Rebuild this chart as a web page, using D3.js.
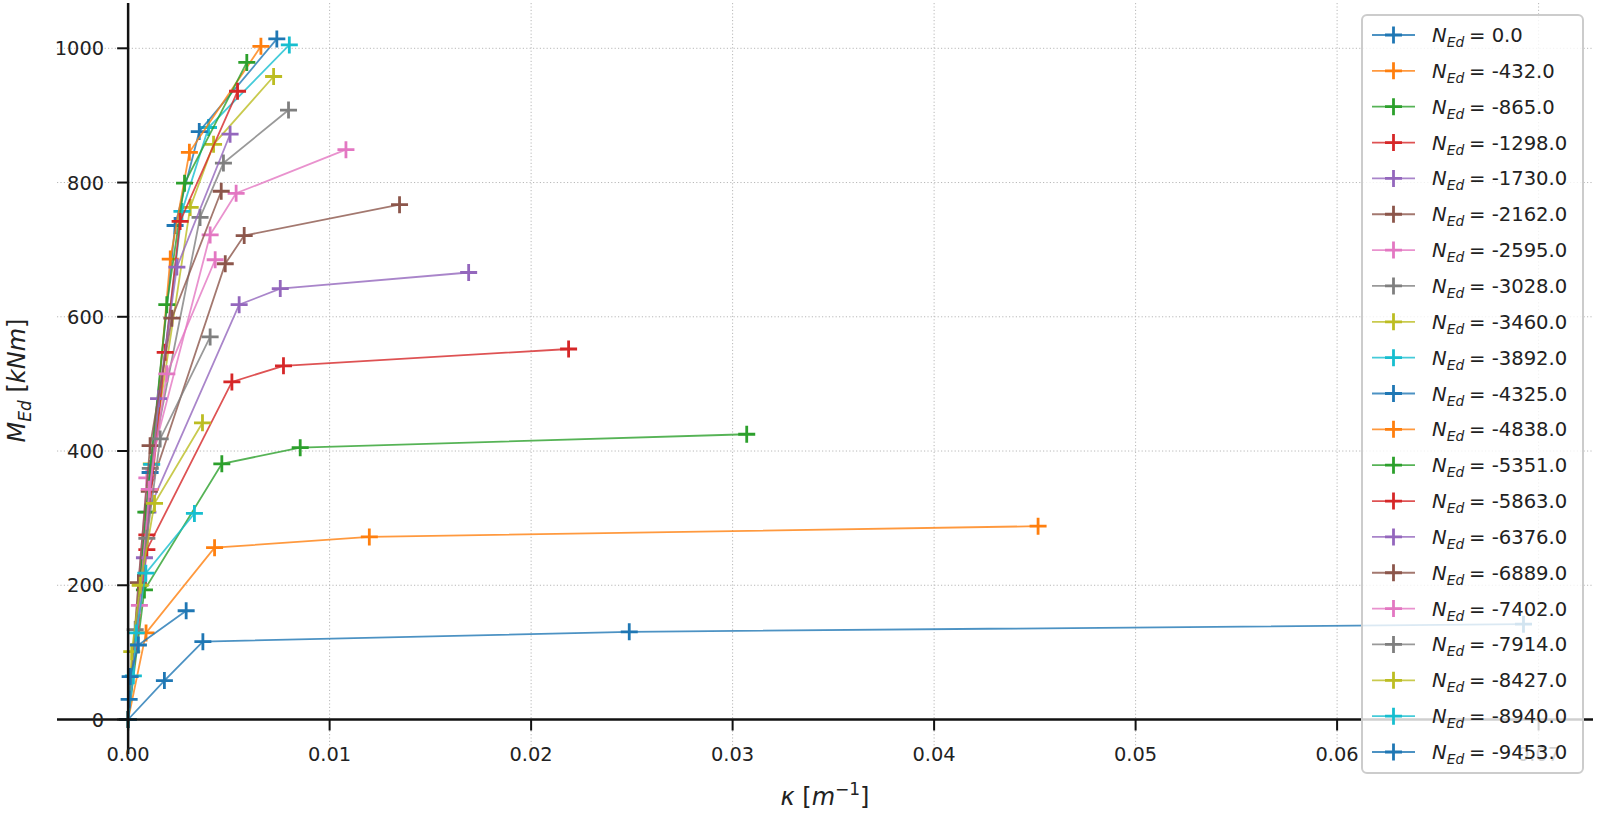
<!DOCTYPE html>
<html>
<head>
<meta charset="utf-8">
<script src="https://cdn.jsdelivr.net/npm/d3@7"></script>
<style>
  body { margin: 0; background: #fff; }
  text { font-family: "DejaVu Sans", sans-serif; fill: #222; }
</style>
</head>
<body>
<div id="container"></div>
<script>
// axial force of each curve (legend labels)
const normalForces = [0, -432, -865, -1298, -1730, -2162, -2595, -3028, -3460, -3892,
  -4325, -4838, -5351, -5863, -6376, -6889, -7402, -7914, -8427, -8940, -9453];

// curvature values per curve [1/m]
const kappaValues = [
  [0, 0.0018, 0.00371, 0.02487, 0.06925],
  [0, 0.00089, 0.00429, 0.01197, 0.04516],
  [0, 0.00081, 0.00465, 0.00854, 0.0307],
  [0, 0.00093, 0.00515, 0.00771, 0.02186],
  [0, 0.00098, 0.00551, 0.00755, 0.0169],
  [0, 0.00105, 0.00482, 0.00576, 0.01347],
  [0, 0.00093, 0.00407, 0.00536, 0.01081],
  [0, 0.0011, 0.00357, 0.00473, 0.00796],
  [0, 0.00115, 0.00308, 0.00424, 0.00722],
  [0, 0.00117, 0.00267, 0.00399, 0.0080],
  [0, 0.00109, 0.00233, 0.00353, 0.00738],
  [0, 0.00109, 0.00209, 0.00304, 0.00659],
  [0, 0.00088, 0.00192, 0.0028, 0.00589],
  [0, 0.00093, 0.00184, 0.00258, 0.00543],
  [0, 0.00081, 0.00151, 0.00242, 0.00506],
  [0, 0.00051, 0.00109, 0.00217, 0.00462],
  [0, 0.00056, 0.00105, 0.00192, 0.00432],
  [0, 0.00035, 0.00093, 0.00159, 0.00407],
  [0, 0.00018, 0.0006, 0.00131, 0.00369],
  [0, 0.00026, 0.0004, 0.00088, 0.00329],
  [0, 0.00005, 0.0001, 0.00051, 0.00288]
];

// bending moment values per curve [kNm]
const momentValues = [
  [0, 58, 116, 130.6, 142],
  [0, 129, 256, 272, 288],
  [0, 193, 381, 405, 425],
  [0, 253, 503, 527, 552],
  [0, 309, 618, 642, 666],
  [0, 340, 679, 721, 767],
  [0, 360, 722, 784, 849],
  [0, 374, 748, 829, 908],
  [0, 381, 763, 857, 958],
  [0, 380, 757, 882, 1005],
  [0, 368, 736, 876, 1014],
  [0, 343, 686, 845, 1003],
  [0, 309, 618, 799, 979],
  [0, 275, 547, 742, 936],
  [0, 241, 478, 674, 872],
  [0, 204, 408, 598, 787],
  [0, 170, 343, 515, 685],
  [0, 134, 270, 418, 570],
  [0, 101, 200, 322, 442],
  [0, 65, 129, 218, 307],
  [0, 30, 64, 111, 162]
];

const xTicks = [0, 0.01, 0.02, 0.03, 0.04, 0.05, 0.06, 0.07];
const yTicks = [0, 200, 400, 600, 800, 1000];

const colors = ["#1f77b4", "#ff7f0e", "#2ca02c", "#d62728", "#9467bd",
                "#8c564b", "#e377c2", "#7f7f7f", "#bcbd22", "#17becf"];

const width = 1600, height = 823;
const plotLeft = 57, plotRight = 1593, plotTop = 3, plotBottom = 754;

const x = d3.scaleLinear().domain([-0.00353, 0.0727]).range([plotLeft, plotRight]);
const y = d3.scaleLinear().domain([-51.4, 1067.5]).range([plotBottom, plotTop]);

const series = normalForces.map((n, i) => ({
  n: n,
  color: colors[i % colors.length],
  points: kappaValues[i].map((k, j) => ({ k: k, m: momentValues[i][j] }))
}));

const svg = d3.select("#container").append("svg")
  .attr("width", width)
  .attr("height", height)
  .style("display", "block");

svg.append("rect").attr("width", width).attr("height", height).attr("fill", "#fff");

// grid
const grid = svg.append("g")
  .attr("stroke", "#b8b8b8")
  .attr("stroke-width", 1)
  .attr("stroke-dasharray", "1.2,2.2");

grid.selectAll("line.gx")
  .data(xTicks)
  .join("line")
  .attr("class", "gx")
  .attr("x1", d => x(d)).attr("x2", d => x(d))
  .attr("y1", plotTop).attr("y2", plotBottom);

grid.selectAll("line.gy")
  .data(yTicks)
  .join("line")
  .attr("class", "gy")
  .attr("x1", plotLeft).attr("x2", plotRight)
  .attr("y1", d => y(d)).attr("y2", d => y(d));

// plus-shaped marker
function plus(sel, size) {
  const h = size / 2;
  return sel.attr("d", `M${-h},0H${h}M0,${-h}V${h}`);
}

const line = d3.line().x(d => x(d.k)).y(d => y(d.m));

const curves = svg.append("g")
  .selectAll("g")
  .data(series)
  .join("g");

curves.append("path")
  .attr("d", d => line(d.points))
  .attr("fill", "none")
  .attr("stroke", d => d.color)
  .attr("stroke-width", 1.8)
  .attr("stroke-opacity", 0.8);

curves.selectAll("path.mk")
  .data(d => d.points.map(p => ({ p: p, color: d.color })))
  .join("path")
  .attr("class", "mk")
  .call(plus, 17)
  .attr("transform", d => `translate(${x(d.p.k)},${y(d.p.m)})`)
  .attr("fill", "none")
  .attr("stroke", d => d.color)
  .attr("stroke-width", 2.8);

// spines through zero
const x0 = x(0), y0 = y(0);
svg.append("line")
  .attr("x1", x0).attr("x2", x0).attr("y1", plotTop).attr("y2", plotBottom)
  .attr("stroke", "#111").attr("stroke-width", 2.5);
svg.append("line")
  .attr("x1", plotLeft).attr("x2", plotRight).attr("y1", y0).attr("y2", y0)
  .attr("stroke", "#111").attr("stroke-width", 2.5);

// x ticks
const xt = svg.append("g").selectAll("g").data(xTicks).join("g")
  .attr("transform", d => `translate(${x(d)},${y0})`);
xt.append("line").attr("y1", 0).attr("y2", 11).attr("stroke", "#111").attr("stroke-width", 2);
xt.append("text")
  .attr("y", 41)
  .attr("text-anchor", "middle")
  .attr("font-size", 19.4)
  .text(d3.format(".2f"));

// y ticks
const yt = svg.append("g").selectAll("g").data(yTicks).join("g")
  .attr("transform", d => `translate(${x0},${y(d)})`);
yt.append("line").attr("x1", 0).attr("x2", -11).attr("stroke", "#111").attr("stroke-width", 2);
yt.append("text")
  .attr("x", -24)
  .attr("y", 7)
  .attr("text-anchor", "end")
  .attr("font-size", 19.4)
  .text(d => d);

// axis labels
const xl = svg.append("text")
  .attr("x", (plotLeft + plotRight) / 2)
  .attr("y", 805)
  .attr("text-anchor", "middle")
  .attr("font-size", 24);
xl.append("tspan").attr("font-style", "italic").text("κ");
xl.append("tspan").text(" [");
xl.append("tspan").attr("font-style", "italic").text("m");
xl.append("tspan").attr("font-size", 17).attr("dy", -10).text("−1");
xl.append("tspan").attr("dy", 10).text("]");

const yl = svg.append("text")
  .attr("transform", `translate(25,${(plotTop + plotBottom) / 2 + 2}) rotate(-90)`)
  .attr("text-anchor", "middle")
  .attr("font-size", 24);
yl.append("tspan").attr("font-style", "italic").text("M");
yl.append("tspan").attr("font-style", "italic").attr("font-size", 17).attr("dy", 6).text("Ed");
yl.append("tspan").attr("dy", -6).text(" [");
yl.append("tspan").attr("font-style", "italic").text("kNm");
yl.append("tspan").text("]");

// legend
const legend = svg.append("g");
legend.append("rect")
  .attr("x", 1362).attr("y", 15)
  .attr("width", 221).attr("height", 758)
  .attr("rx", 5)
  .attr("fill", "#fff").attr("fill-opacity", 0.8)
  .attr("stroke", "#cccccc").attr("stroke-width", 2);

const rowH = 35.85;
const entry = legend.selectAll("g.entry")
  .data(series)
  .join("g")
  .attr("class", "entry")
  .attr("transform", (d, i) => `translate(0,${35 + i * rowH})`);

entry.append("line")
  .attr("x1", 1372).attr("x2", 1415)
  .attr("stroke", d => d.color).attr("stroke-width", 1.8).attr("stroke-opacity", 0.8);
entry.append("path")
  .call(plus, 17)
  .attr("transform", "translate(1393.5,0)")
  .attr("fill", "none")
  .attr("stroke", d => d.color)
  .attr("stroke-width", 2.8);

const label = entry.append("text")
  .attr("x", 1432).attr("y", 7)
  .attr("font-size", 19.6);
label.append("tspan").attr("font-style", "italic").text("N");
label.append("tspan").attr("font-style", "italic").attr("font-size", 13.8).attr("dy", 5).text("Ed");
label.append("tspan").attr("x", 1469).attr("dy", -5).text(d => "= " + d.n.toFixed(1));
</script>
</body>
</html>
